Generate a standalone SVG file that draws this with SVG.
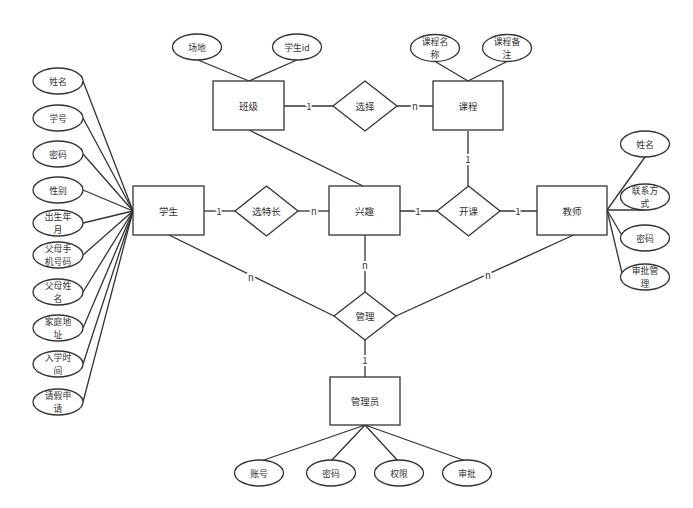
<svg xmlns="http://www.w3.org/2000/svg" width="693" height="508" viewBox="0 0 693 508">
<style>
text{font-family:"Noto Sans CJK SC","Liberation Sans",sans-serif;font-size:9.5px;fill:#333;text-anchor:middle;dominant-baseline:central}
.a text{font-size:8.8px}
.e{fill:#fff;stroke:#333;stroke-width:1.3}
.r{fill:#fff;stroke:#333;stroke-width:1.3}
#connectors line{stroke:#333;stroke-width:1.3}
.lb{stroke:#fff;stroke-width:4;paint-order:stroke}
</style>
<rect width="693" height="508" fill="#fff"/>
<g id="connectors">
<line x1="83" y1="81" x2="133" y2="211"/>
<line x1="83" y1="118" x2="133" y2="211"/>
<line x1="83" y1="154" x2="133" y2="211"/>
<line x1="83" y1="190" x2="133" y2="211"/>
<line x1="83" y1="223" x2="133" y2="211"/>
<line x1="83" y1="255" x2="133" y2="211"/>
<line x1="83" y1="292" x2="133" y2="211"/>
<line x1="83" y1="328" x2="133" y2="211"/>
<line x1="83" y1="364" x2="133" y2="211"/>
<line x1="83" y1="402" x2="133" y2="211"/>
<line x1="198" y1="60" x2="249" y2="81"/>
<line x1="297" y1="60" x2="249" y2="81"/>
<line x1="436" y1="62" x2="468" y2="81"/>
<line x1="506" y1="62" x2="468" y2="81"/>
<line x1="284" y1="106" x2="333" y2="106"/>
<line x1="397" y1="106" x2="433" y2="106"/>
<line x1="249" y1="130" x2="363" y2="186"/>
<line x1="204" y1="211" x2="235" y2="211"/>
<line x1="298" y1="211" x2="329" y2="211"/>
<line x1="400" y1="211" x2="437" y2="211"/>
<line x1="500" y1="211" x2="537" y2="211"/>
<line x1="468" y1="131" x2="468" y2="186"/>
<line x1="607" y1="210" x2="645" y2="157"/>
<line x1="607" y1="210" x2="645" y2="210"/>
<line x1="607" y1="210" x2="621" y2="234"/>
<line x1="607" y1="210" x2="622" y2="273"/>
<line x1="365" y1="235" x2="365" y2="292"/>
<line x1="169" y1="235" x2="334" y2="316"/>
<line x1="578" y1="233" x2="396" y2="316"/>
<line x1="365" y1="340" x2="365" y2="377"/>
<line x1="365" y1="425" x2="261" y2="461"/>
<line x1="365" y1="425" x2="331" y2="461"/>
<line x1="365" y1="425" x2="398" y2="461"/>
<line x1="365" y1="425" x2="466" y2="461"/>
<text class="lb" x="309" y="106">1</text>
<text class="lb" x="415" y="106">n</text>
<text class="lb" x="219" y="211">1</text>
<text class="lb" x="314" y="211">n</text>
<text class="lb" x="418" y="211">1</text>
<text class="lb" x="518" y="211">1</text>
<text class="lb" x="468" y="159">1</text>
<text class="lb" x="365" y="265">n</text>
<text class="lb" x="251" y="277">n</text>
<text class="lb" x="488" y="275">n</text>
<text class="lb" x="365" y="360">1</text>
</g>
<g id="n-xuesheng"><rect class="r" x="133" y="186" width="71" height="49"/><text x="168.5" y="211">学生</text></g>
<g id="n-xuantechang"><polygon class="r" points="266.5,186 298,211 266.5,236 235,211"/><text x="266.5" y="211">选特长</text></g>
<g id="n-xingqu"><rect class="r" x="329" y="186" width="71" height="49"/><text x="364.5" y="211">兴趣</text></g>
<g id="n-kaike"><polygon class="r" points="468.5,186 500,211 468.5,236 437,211"/><text x="468.5" y="211">开课</text></g>
<g id="n-jiaoshi"><rect class="r" x="537" y="186" width="70" height="49"/><text x="572" y="211">教师</text></g>
<g id="n-banji"><rect class="r" x="213" y="81" width="71" height="49"/><text x="248.5" y="106">班级</text></g>
<g id="n-xuanze"><polygon class="r" points="365,81 397,106 365,131 333,106"/><text x="365" y="106">选择</text></g>
<g id="n-kecheng"><rect class="r" x="433" y="81" width="70" height="49"/><text x="468" y="106">课程</text></g>
<g id="n-guanli"><polygon class="r" points="365,292 396,316 365,340 334,316"/><text x="365" y="316">管理</text></g>
<g id="n-guanliyuan"><rect class="r" x="330" y="377" width="70" height="48"/><text x="365" y="401">管理员</text></g>
<g class="a">
<g id="a-changdi"><ellipse class="e" cx="197" cy="47" rx="24.5" ry="13"/><text x="197" y="47">场地</text></g>
<g id="a-xueshengid"><ellipse class="e" cx="297" cy="47" rx="24.5" ry="13"/><text x="297" y="47">学生id</text></g>
<g id="a-kcmc"><ellipse class="e" cx="435" cy="48" rx="24.5" ry="13.5"/><text x="435" y="41.6">课程名<tspan x="435" dy="12.8">称</tspan></text></g>
<g id="a-kcbz"><ellipse class="e" cx="507" cy="48" rx="24.5" ry="13.5"/><text x="507" y="41.6">课程备<tspan x="507" dy="12.8">注</tspan></text></g>
<g id="a-s-xingming"><ellipse class="e" cx="58" cy="81" rx="25" ry="13"/><text x="58" y="81">姓名</text></g>
<g id="a-s-xuehao"><ellipse class="e" cx="58" cy="118" rx="25" ry="13"/><text x="58" y="118">学号</text></g>
<g id="a-s-mima"><ellipse class="e" cx="58" cy="154" rx="25" ry="13"/><text x="58" y="154">密码</text></g>
<g id="a-s-xingbie"><ellipse class="e" cx="58" cy="190" rx="25" ry="13"/><text x="58" y="190">性别</text></g>
<g id="a-s-csny"><ellipse class="e" cx="58" cy="223" rx="25" ry="13"/><text x="58" y="216.6">出生年<tspan x="58" dy="12.8">月</tspan></text></g>
<g id="a-s-fmsjhm"><ellipse class="e" cx="58" cy="255" rx="25" ry="13"/><text x="58" y="248.6">父母手<tspan x="58" dy="12.8">机号码</tspan></text></g>
<g id="a-s-fmxm"><ellipse class="e" cx="58" cy="292" rx="25" ry="13"/><text x="58" y="285.6">父母姓<tspan x="58" dy="12.8">名</tspan></text></g>
<g id="a-s-jtdz"><ellipse class="e" cx="58" cy="328" rx="25" ry="13"/><text x="58" y="321.6">家庭地<tspan x="58" dy="12.8">址</tspan></text></g>
<g id="a-s-rxsj"><ellipse class="e" cx="58" cy="364" rx="25" ry="13"/><text x="58" y="357.6">入学时<tspan x="58" dy="12.8">间</tspan></text></g>
<g id="a-s-qjsq"><ellipse class="e" cx="58" cy="402" rx="25" ry="13"/><text x="58" y="395.6">请假申<tspan x="58" dy="12.8">请</tspan></text></g>
<g id="a-t-xingming"><ellipse class="e" cx="645" cy="144" rx="24.5" ry="13"/><text x="645" y="144">姓名</text></g>
<g id="a-t-lxfs"><ellipse class="e" cx="645" cy="197" rx="24.5" ry="13"/><text x="645" y="190.6">联系方<tspan x="645" dy="12.8">式</tspan></text></g>
<g id="a-t-mima"><ellipse class="e" cx="645" cy="238" rx="24.5" ry="13"/><text x="645" y="238">密码</text></g>
<g id="a-t-spgl"><ellipse class="e" cx="645" cy="277" rx="24.5" ry="13"/><text x="645" y="270.6">审批管<tspan x="645" dy="12.8">理</tspan></text></g>
<g id="a-a-zhanghao"><ellipse class="e" cx="259" cy="473" rx="24.5" ry="13"/><text x="259" y="473">账号</text></g>
<g id="a-a-mima"><ellipse class="e" cx="331" cy="473" rx="24.5" ry="13"/><text x="331" y="473">密码</text></g>
<g id="a-a-quanxian"><ellipse class="e" cx="399" cy="473" rx="24.5" ry="13"/><text x="399" y="473">权限</text></g>
<g id="a-a-shenpi"><ellipse class="e" cx="467" cy="473" rx="24.5" ry="13"/><text x="467" y="473">审批</text></g>
</g>
</svg>
